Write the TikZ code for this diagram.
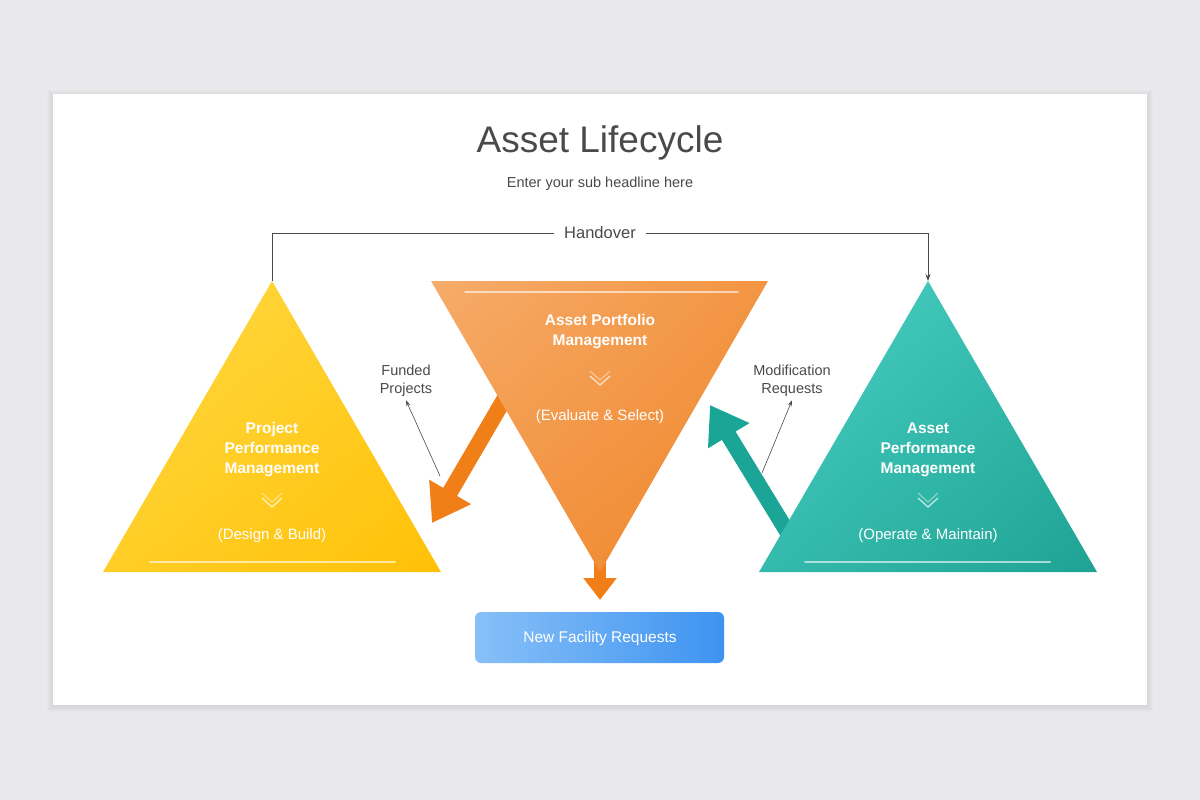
\documentclass[tikz,border=0pt]{standalone}
\usepackage{fontspec}
\setmainfont{Liberation Sans}
\usetikzlibrary{arrows.meta,shadings}
\definecolor{bgc}{HTML}{E9E8EA}
\definecolor{txt}{HTML}{4A4A4A}
\definecolor{yl1}{HTML}{FFDA45}
\definecolor{yl2}{HTML}{FFC107}
\definecolor{or1}{HTML}{F6AC6A}
\definecolor{or2}{HTML}{F0862A}
\definecolor{orA}{HTML}{F07F18}
\definecolor{tl1}{HTML}{4BD3C6}
\definecolor{tl2}{HTML}{1EA293}
\definecolor{tlA}{HTML}{1AA597}
\definecolor{bl1}{HTML}{88C0F8}
\definecolor{bl2}{HTML}{3E93F0}
\tikzset{
  lbl/.style={text=white,align=center,font=\fontsize{15.5}{20}\selectfont\bfseries},
  sub/.style={text=white,font=\fontsize{15}{18}\selectfont},
  note/.style={text=txt,align=center,font=\fontsize{14.5}{18}\selectfont},
  chev/.style={white,opacity=0.7,line width=1.3pt},
  glow/.style={white,opacity=0.6,line width=2pt,line cap=round},
  thin/.style={draw=txt,line width=0.6pt,-{Stealth[length=6pt,width=4pt]}},
}
\newcommand{\mychev}[2]{\draw[chev] (#1-10,#2-5) -- (#1,#2+4) -- (#1+10,#2-5);
  \draw[chev,opacity=0.4] (#1-10,#2-10) -- (#1,#2-1) -- (#1+10,#2-10);}
\begin{document}
\begin{tikzpicture}[x=1pt,y=-1pt]
\fill[bgc] (0,0) rectangle (1200,800);
\useasboundingbox (0,0) rectangle (1200,800);
\foreach \i in {1,...,6} {\fill[black,opacity=0.012] (53-\i,94-\i+2) rectangle (1147+\i,705+\i+1);}
\fill[white] (53,94) rectangle (1147,705);
\node[text=txt,font=\fontsize{37}{40}\selectfont] (title) at (600,143) {Asset Lifecycle};
\node[text=txt,font=\fontsize{14.5}{16}\selectfont] (subt) at (600,184) {Enter your sub headline here};
% big arrows (under triangles)
\coordinate (oa1) at (512,386); \coordinate (oa2) at (432,523);
\draw[orA,line width=16pt,-{Triangle[length=36pt,width=46pt]}] (oa1) -- (oa2);
\coordinate (ta1) at (796,546); \coordinate (ta2) at (710,405);
\draw[tlA,line width=16pt,-{Triangle[length=36pt,width=46pt]}] (ta1) -- (ta2);
\coordinate (da1) at (600,552); \coordinate (da2) at (600,600);
\draw[orA,line width=12pt,-{Triangle[length=22pt,width=32pt]}] (da1) -- (da2);
% triangles
\shade[upper left=yl1,upper right=yl1!50!yl2,lower left=yl1!50!yl2,lower right=yl2] (272,281) -- (441,572) -- (103,572) -- cycle;
\shade[upper left=or1,upper right=or1!40!or2,lower left=or1!40!or2,lower right=or2] (431,281) -- (768,281) -- (600,572) -- cycle;
\shade[upper left=tl1,upper right=tl1!50!tl2,lower left=tl1!50!tl2,lower right=tl2] (928,281) -- (1097,572) -- (759,572) -- cycle;
\coordinate (lt) at (272,281); \coordinate (rt) at (928,281);
\draw[glow] (150,562) -- (395,562);
\draw[glow] (465,292) -- (738,292);
\draw[glow] (805,562) -- (1050,562);
% handover
\node[text=txt,font=\fontsize{16.5}{18}\selectfont,inner xsep=10pt] (hand) at (600,233) {Handover};
\draw[txt,line width=0.8pt] (lt) -- (272,233) -- (hand.west);
\draw[txt,line width=0.8pt,-{Stealth[length=7pt,width=5pt]}] (hand.east) -- (928,233) -- (rt);
% texts
\node[lbl] (pl) at (272,450) {Project\\Performance\\Management};
\mychev{272}{503}
\node[sub] (pls) at (272,536) {(Design \& Build)};
\node[lbl] (ml) at (600,332) {Asset Portfolio\\Management};
\mychev{600}{381}
\node[sub] (mls) at (600,417) {(Evaluate \& Select)};
\node[lbl] (rl) at (928,450) {Asset\\Performance\\Management};
\mychev{928}{503}
\node[sub] (rls) at (928,536) {(Operate \& Maintain)};
% notes
\node[note] (fp) at (406,381) {Funded\\Projects};
\draw[thin] (440,476) -- (fp.south);
\node[note] (mr) at (792,381) {Modification\\Requests};
\draw[thin] (762,473) -- (mr.south);
% box
\shade[left color=bl1,right color=bl2,rounded corners=6pt] (475,612) rectangle (724,663);
\node[text=white,font=\fontsize{15.5}{18}\selectfont] (nf) at (600,638) {New Facility Requests};
\end{tikzpicture}
\end{document}
